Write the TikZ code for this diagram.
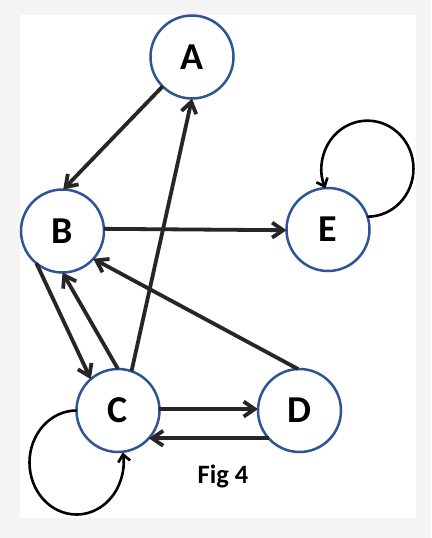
\documentclass[tikz,border=0pt]{standalone}
\usepackage{fontspec}
\setmainfont{Carlito}
\usetikzlibrary{arrows.meta}
\definecolor{bgcol}{HTML}{F4F4F4}
\definecolor{ringcol}{HTML}{2F5496}
\definecolor{edgecol}{HTML}{262626}
\begin{document}
\begin{tikzpicture}[x=1pt,y=-1pt,
  vertex/.style={circle, draw=ringcol, line width=2.5pt, fill=white, minimum size=83pt, inner sep=0pt, outer sep=0pt, font=\fontsize{38}{42}\selectfont\bfseries},
  edge/.style={draw=edgecol, line width=3.8pt, -{Straight Barb[length=11pt,width=15pt]}},
  loopedge/.style={draw=black, line width=2.6pt, -{Straight Barb[length=7pt,width=12pt]}},
  caption/.style={anchor=base, font=\fontsize{26.5}{30}\selectfont\bfseries}]
\fill[bgcol] (0,0) rectangle (431,538);
\fill[white] (20,14.7) rectangle (416,517.8);
\useasboundingbox (0,0) rectangle (431,538);

\node[vertex] (A) at (192,57) {A};
\node[vertex] (B) at (62.5,231) {B};
\node[vertex] (C) at (118,410.5) {C};
\node[vertex] (D) at (299.5,410.5) {D};
\node[vertex] (E) at (328,229.5) {E};
\node[caption] (cap) at (223,483) {Fig 4};

\draw[edge] (A.225) -- (B.89);
\draw[edge] (C.71) -- (A.270);
\draw[edge] (B.3) -- (E.181);
\draw[edge] (B.231) -- (C.131);
\draw[edge] (C.90) -- (B.270);
\draw[edge] (D.92) -- (B.318);
\draw[edge] (C.2) -- (D.178);
\draw[edge] (D.222) -- (C.318);

\draw[loopedge] (E.18) arc[start angle=-90, end angle=204, x radius=46pt, y radius=48pt];
\draw[loopedge] (C.180) arc[start angle=90, end angle=371, x radius=47pt, y radius=52pt];
\end{tikzpicture}
\end{document}
